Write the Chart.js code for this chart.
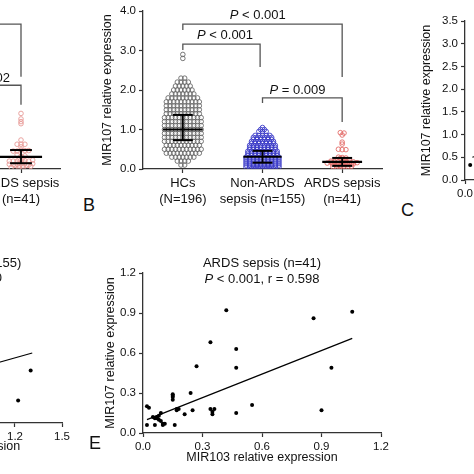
<!DOCTYPE html>
<html>
<head>
<meta charset="utf-8">
<script src="https://cdn.jsdelivr.net/npm/chart.js@4.4.0/dist/chart.umd.min.js"></script>
<style>
html, body { margin: 0; padding: 0; background: #fff; }
body { width: 474px; height: 474px; overflow: hidden; position: relative; }
canvas { position: absolute; }
.tag { position: absolute; font: 18px "Liberation Sans", Arial, sans-serif; line-height: 20px; color: #111; }
</style>
</head>
<body>
<canvas id="panelA" width="294" height="219" style="left:-224px;top:0px"></canvas>
<canvas id="panelB" width="294" height="219" style="left:98px;top:0px"></canvas>
<canvas id="panelC" width="280" height="220" style="left:417px;top:0px"></canvas>
<canvas id="panelD" width="295" height="204" style="left:-223px;top:250px"></canvas>
<canvas id="panelE" width="290" height="215" style="left:101px;top:250px"></canvas>
<div class="tag" style="left:83px;top:195px">B</div>
<div class="tag" style="left:401px;top:200px">C</div>
<div class="tag" style="left:89px;top:433px">E</div>
<script>
// group labels for the dot plots
const groupNames = [['HCs', '(N=196)'], ['Non-ARDS', 'sepsis (n=155)'], ['ARDS sepsis', '(n=41)']];

// MIR107 in healthy controls: level -> number of dots on that row
const hcsLevels = [0.1, 0.2, 0.3, 0.4, 0.5, 0.6, 0.7, 0.8, 0.9, 1.0, 1.1, 1.2, 1.3, 1.4, 1.5, 1.6, 1.7, 1.8, 1.9, 2.0, 2.1, 2.2, 2.3, 2.8, 2.9];
const hcsCounts = [2, 4, 7, 10, 11, 10, 11, 11, 11, 11, 11, 11, 11, 10, 10, 10, 10, 9, 7, 6, 5, 4, 2, 1, 1];

// MIR107 in non-ARDS sepsis
const nonLevels = [0.02, 0.05, 0.10, 0.15, 0.20, 0.25, 0.30, 0.35, 0.40, 0.45, 0.50, 0.55, 0.60, 0.65, 0.70, 0.75, 0.80, 0.85, 0.95, 1.00, 1.05];
const nonCounts = [7, 10, 10, 10, 10, 10, 10, 9, 9, 9, 8, 8, 8, 7, 7, 6, 6, 5, 3, 2, 1];

// ARDS sepsis patients (panel E pairs, also the ARDS columns of A and B)
const ardsMir103 = [0.42, 0.34, 0.47, 0.27, 0.47, 0.24, 0.15, 0.15, 0.15, 0.02, 0.03, 0.09, 0.18, 0.17, 0.25, 0.34, 0.36, 0.35, 0.21, 0.47, 0.55,
  0.07, 0.08, 0.09, 0.06, 0.02, 0.06, 0.10, 0.11, 0.16, 0.86, 1.055, 0.95, 0.90, 0.07, 0.08, 0.15, 0.35, 0.10, 0.17, 0.05];
const ardsMir107 = [0.92, 0.68, 0.63, 0.50, 0.49, 0.30, 0.29, 0.27, 0.25, 0.20, 0.19, 0.15, 0.18, 0.17, 0.17, 0.18, 0.18, 0.14, 0.14, 0.15, 0.21,
  0.12, 0.10, 0.09, 0.11, 0.06, 0.06, 0.06, 0.07, 0.06, 0.86, 0.91, 0.49, 0.17, 0.11, 0.13, 0.28, 0.16, 0.07, 0.18, 0.12];

// mean and SD limits (B: HCs, non-ARDS, ARDS; A: ARDS only)
const meanB = [1.00, 0.31, 0.18];
const sdHighB = [1.37, 0.46, 0.28];
const sdLowB = [0.73, 0.16, 0.08];
const meanA = [0.23];
const sdHighA = [0.36];
const sdLowA = [0.11];

// regression lines (end points)
const ardsFitX = [0.02, 1.055];
const ardsFitY = [0.10, 0.71];
const nonFitX = [0.02, 1.31];
const nonFitY = [0.105, 0.56];
const hcFitX = [0.10, 2.80];
const hcFitY = [0.50, 1.90];

// what shows of panels C and D
const nonMir103 = [1.30, 1.22];
const nonMir107 = [0.42, 0.18];
const hcMir103 = [0.07];
const hcMir107 = [0.33];

const SANS = '"Liberation Sans", Arial, sans-serif';
Chart.defaults.font.family = SANS;
Chart.defaults.color = '#111';
Chart.defaults.animation = false;
Chart.defaults.plugins.legend.display = false;
Chart.defaults.plugins.tooltip.enabled = false;

// text at data coordinates, parts can be italic
Chart.register({
  id: 'notes',
  afterDatasetsDraw(chart, args, opts) {
    const ctx = chart.ctx, xs = chart.scales.x, ys = chart.scales.y;
    (opts.items || []).forEach(it => {
      const size = it.size || 13;
      const fontOf = p => (p[1] ? 'italic ' : '') + size + 'px ' + SANS;
      ctx.save();
      let w = 0;
      it.parts.forEach(p => { ctx.font = fontOf(p); w += ctx.measureText(p[0]).width; });
      let x = xs.getPixelForValue(it.x) - w / 2;
      const y = ys.getPixelForValue(it.y);
      ctx.fillStyle = '#111';
      ctx.textBaseline = 'middle';
      it.parts.forEach(p => { ctx.font = fontOf(p); ctx.fillText(p[0], x, y); x += ctx.measureText(p[0]).width; });
      ctx.restore();
    });
  }
});

function expand(levels, counts) {
  const out = [];
  levels.forEach((v, i) => { for (let k = 0; k < counts[i]; k++) out.push(v); });
  return out;
}

// lay values out in rows, spread sideways around the column centre
function swarm(values, center, rowStep, dotStep) {
  const rows = {};
  values.forEach(v => { const k = Math.round(v / rowStep); (rows[k] = rows[k] || []).push(v); });
  const pts = [];
  Object.values(rows).forEach(r => r.forEach((v, i) => pts.push({x: center + (i - (r.length - 1) / 2) * dotStep, y: v})));
  return pts;
}

function dots(points, color, r, bw) {
  return {data: points, pointRadius: r, borderColor: color, backgroundColor: 'rgba(0,0,0,0)', borderWidth: bw};
}
function solid(points, r) {
  return {data: points, pointRadius: r, borderColor: '#000', backgroundColor: '#000', borderWidth: 0};
}
function poly(points, color, w) {
  return {data: points, showLine: true, pointRadius: 0, borderColor: color, borderWidth: w, tension: 0};
}
function meanSd(c, m, lo, hi, halfMean, halfCap) {
  return [
    poly([{x: c - halfMean, y: m}, {x: c + halfMean, y: m}], '#000', 2.2),
    poly([{x: c, y: lo}, {x: c, y: hi}], '#000', 1.8),
    poly([{x: c - halfCap, y: hi}, {x: c + halfCap, y: hi}], '#000', 2),
    poly([{x: c - halfCap, y: lo}, {x: c + halfCap, y: lo}], '#000', 2)
  ];
}
function pairs(xs, ys) { return xs.map((x, i) => ({x, y: ys[i]})); }

function fitY(w) { return s => { s.width = w; s.paddingTop = 0; s.paddingBottom = 0; }; }
function fitX(h) { return s => { s.height = h; s.paddingLeft = 0; s.paddingRight = 0; }; }

function scale(min, max, step, size, fit, title, fmt) {
  return {
    type: 'linear', min, max,
    border: {display: true, color: '#333', width: 1.3},
    grid: {drawOnChartArea: false, drawTicks: true, tickLength: 4, tickColor: '#333', tickWidth: 1.2},
    ticks: {stepSize: step, font: {size}, color: '#111', autoSkip: false, maxRotation: 0,
      callback: fmt || (v => v.toFixed(1))},
    title: title ? {display: true, text: title, font: {size: 12.5}, color: '#111', padding: {top: 2, bottom: 0}} : {display: false},
    afterFit: fit
  };
}
function groupAxis(h) {
  const s = scale(0.5, 3.5, 1, 13, fitX(h), null, v => groupNames[v - 1]);
  s.afterBuildTicks = a => { a.ticks = [{value: 1}, {value: 2}, {value: 3}]; };
  return s;
}

function panel(id, datasets, xScale, yScale, pad, notes) {
  return new Chart(document.getElementById(id), {
    type: 'scatter',
    data: {datasets},
    options: {
      responsive: false,
      layout: {padding: pad},
      scales: {x: xScale, y: yScale},
      plugins: {notes: {items: notes}}
    }
  });
}

const pLess = [['P', 1], [' < 0.001', 0]];

// A: MIR103 by group (only the ARDS column is in view)
panel('panelA', [
  ...meanSd(3, meanA[0], sdLowA[0], sdHighA[0], 0.27, 0.14),
  dots(swarm(ardsMir103, 3, 0.05, 0.05), '#e89a96', 2.3, 0.9),
  poly([{x: 1, y: 2.6}, {x: 1, y: 2.75}, {x: 3, y: 2.75}, {x: 3, y: 1.75}], '#555', 1.3),
  poly([{x: 2, y: 1.45}, {x: 2, y: 1.59}, {x: 3, y: 1.59}, {x: 3, y: 1.22}], '#555', 1.3)
], groupAxis(50), scale(0, 3, 1, 11.5, fitY(50), 'MIR103 relative expression'),
  {left: 0, right: 10, top: 11, bottom: 0},
  [{x: 2.5, y: 1.72, parts: [['P', 1], [' = 0.002', 0]]}]);

// B: MIR107 by group
panel('panelB', [
  ...meanSd(1, meanB[0], sdLowB[0], sdHighB[0], 0.25, 0.125),
  ...meanSd(2, meanB[1], sdLowB[1], sdHighB[1], 0.24, 0.125),
  ...meanSd(3, meanB[2], sdLowB[2], sdHighB[2], 0.25, 0.125),
  dots(swarm(expand(hcsLevels, hcsCounts), 1, 0.1, 0.046), '#6a6a6a', 2.3, 0.9),
  dots(swarm(expand(nonLevels, nonCounts), 2, 0.05, 0.046), '#3c3cc8', 2.3, 0.9),
  dots(swarm(ardsMir107, 3, 0.05, 0.047), '#e36b68', 2.3, 0.9),
  poly([{x: 1, y: 3.52}, {x: 1, y: 3.67}, {x: 3, y: 3.67}, {x: 3, y: 2.33}], '#555', 1.3),
  poly([{x: 1, y: 3.01}, {x: 1, y: 3.16}, {x: 1.97, y: 3.16}, {x: 1.97, y: 2.58}], '#555', 1.3),
  poly([{x: 2, y: 1.67}, {x: 2, y: 1.80}, {x: 3, y: 1.80}, {x: 3, y: 1.19}], '#555', 1.3)
], groupAxis(50), scale(0, 4, 1, 11.5, fitY(45), 'MIR107 relative expression'),
  {left: 0, right: 10, top: 11, bottom: 0},
  [{x: 1.94, y: 3.9, parts: pLess}, {x: 1.53, y: 3.38, parts: pLess},
   {x: 2.44, y: 2.0, parts: [['P', 1], [' = 0.009', 0]]}]);

// C: healthy controls correlation (left edge only)
panel('panelC', [
  solid(pairs(hcMir103, hcMir107), 2),
  poly(pairs(hcFitX, hcFitY), '#000', 1.2)
], scale(0, 3, 0.5, 11.5, fitX(40), 'MIR103 relative expression'),
  scale(0, 3.5, 0.5, 11.5, fitY(48), 'MIR107 relative expression'),
  {left: 0, right: 10, top: 21, bottom: 0}, []);

// D: non-ARDS sepsis correlation (right edge only)
panel('panelD', [
  solid(pairs(nonMir103, nonMir107), 2),
  poly(pairs(nonFitX, nonFitY), '#000', 1.2)
], scale(0, 1.5, 0.3, 11.5, fitX(31), 'MIR103 relative expression'),
  scale(0, 1.2, 0.3, 11.5, fitY(50), 'MIR107 relative expression'),
  {left: 0, right: 10, top: 23, bottom: 0},
  [{x: 0.75, y: 1.28, parts: [['Non-ARDS sepsis (n=155)', 0]]},
   {x: 0.75, y: 1.16, parts: [['P', 1], [' < 0.001, r = 0.420', 0]]}]);

// E: ARDS sepsis correlation
panel('panelE', [
  solid(pairs(ardsMir103, ardsMir107), 2),
  poly(pairs(ardsFitX, ardsFitY), '#000', 1.2)
], scale(0, 1.2, 0.3, 11.5, fitX(32), 'MIR103 relative expression'),
  scale(0, 1.2, 0.3, 11.5, fitY(42), 'MIR107 relative expression'),
  {left: 0, right: 10, top: 23, bottom: 0},
  [{x: 0.6, y: 1.275, parts: [['ARDS sepsis (n=41)', 0]]},
   {x: 0.6, y: 1.155, parts: [['P', 1], [' < 0.001, r = 0.598', 0]]}]);
</script>
</body>
</html>
